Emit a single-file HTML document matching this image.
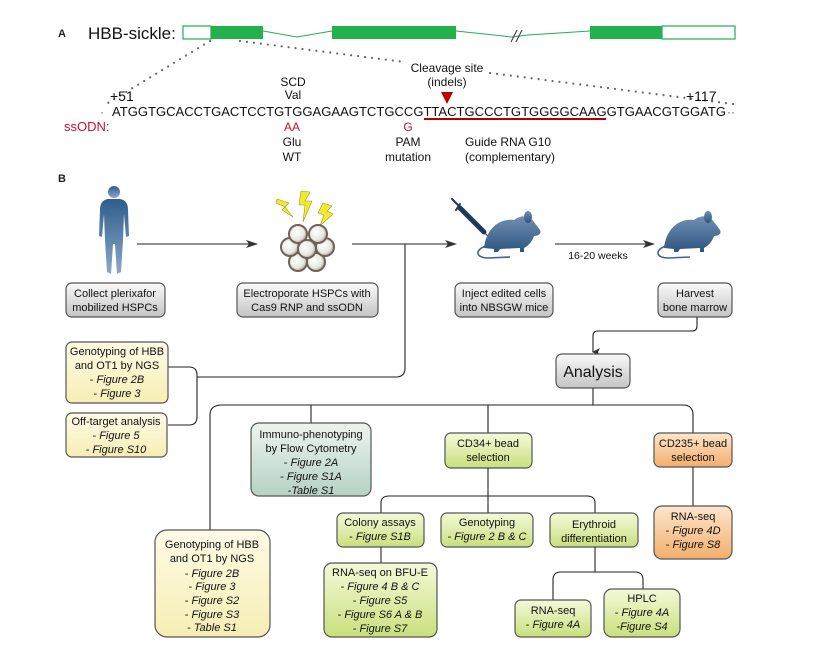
<!DOCTYPE html>
<html><head><meta charset="utf-8"><style>
html,body{margin:0;padding:0;background:#fff;}
svg{display:block;font-family:"Liberation Sans",Arial,sans-serif;}
.b{font-size:11px;fill:#111;text-anchor:middle;}
.i{font-style:italic;}
.ln{fill:none;stroke:#222;stroke-width:1.1;}
.bx{stroke:#555;stroke-width:1.2;}
</style></head><body>
<svg width="816" height="652" viewBox="0 0 816 652" xmlns="http://www.w3.org/2000/svg">
<defs>
<linearGradient id="gg" x1="0" y1="0" x2="0" y2="1"><stop offset="0" stop-color="#fafafa"/><stop offset="1" stop-color="#c4c4c4"/></linearGradient>
<linearGradient id="gy" x1="0" y1="0" x2="0" y2="1"><stop offset="0" stop-color="#fffbe6"/><stop offset="1" stop-color="#f6eeb4"/></linearGradient>
<linearGradient id="gn" x1="0" y1="0" x2="0" y2="1"><stop offset="0" stop-color="#f4f9da"/><stop offset="1" stop-color="#c9e07c"/></linearGradient>
<linearGradient id="go" x1="0" y1="0" x2="0" y2="1"><stop offset="0" stop-color="#fde6cc"/><stop offset="1" stop-color="#f3ae6c"/></linearGradient>
<linearGradient id="gt" x1="0" y1="0" x2="0" y2="1"><stop offset="0" stop-color="#edf4ef"/><stop offset="1" stop-color="#b5d2c2"/></linearGradient>
<linearGradient id="gb" x1="0" y1="0" x2="0" y2="1"><stop offset="0" stop-color="#2f5d8c"/><stop offset="1" stop-color="#8aa8c8"/></linearGradient>
<linearGradient id="gm" x1="0" y1="0" x2="0" y2="1"><stop offset="0" stop-color="#6f8fb3"/><stop offset="1" stop-color="#2f5580"/></linearGradient>
<radialGradient id="gc" cx="0.4" cy="0.4" r="0.6"><stop offset="0" stop-color="#fff"/><stop offset="0.7" stop-color="#e8e8e0"/><stop offset="1" stop-color="#b8b0a8"/></radialGradient>
<marker id="ar" markerWidth="12" markerHeight="8" refX="11" refY="4" orient="auto" markerUnits="userSpaceOnUse"><path d="M0,0 L12,4 L0,8 L3,4 Z" fill="#333"/></marker>
<marker id="ar2" markerWidth="8" markerHeight="8" refX="4" refY="7" orient="auto" markerUnits="userSpaceOnUse"><path d="M0,0 L4,8 L8,0 L4,2 Z" fill="#333"/></marker>
<g id="mouse">
<path d="M4,36 C6,18 18,6 34,8 C42,2 50,4 54,10 L60,18 C62,22 58,24 54,24 C52,30 48,34 44,36 L44,40 L40,40 L40,36 L20,37 L18,40 L14,40 L14,37 Z" fill="url(#gm)"/>
<ellipse cx="48" cy="5" rx="4" ry="6" fill="url(#gm)"/>
<path d="M6,34 C-6,38 -4,46 8,46 L30,45" fill="none" stroke="#3d6390" stroke-width="1.6"/>
</g>
</defs>

<!-- Panel A -->
<text x="58" y="37" font-size="11" font-weight="bold" fill="#222">A</text>
<text x="88" y="39" font-size="17" fill="#111">HBB-sickle:</text>
<rect x="183" y="26" width="28" height="13" fill="#fff" stroke="#22b14c" stroke-width="1.2"/>
<rect x="662" y="26" width="73" height="13" fill="#fff" stroke="#22b14c" stroke-width="1.2"/>
<rect x="211" y="26" width="52" height="13" fill="#22b14c"/>
<rect x="332" y="26" width="124" height="13" fill="#22b14c"/>
<rect x="590" y="26" width="72" height="13" fill="#22b14c"/>
<polyline points="263,31 297,37 332,31" fill="none" stroke="#22b14c" stroke-width="1"/>
<polyline points="456,31 512,37 528,35 590,31" fill="none" stroke="#22b14c" stroke-width="1"/>
<line x1="511" y1="42" x2="517" y2="30" stroke="#333" stroke-width="1"/>
<line x1="516" y1="42" x2="522" y2="30" stroke="#333" stroke-width="1"/>
<line x1="210" y1="41" x2="103" y2="106" stroke="#666" stroke-width="2.2" stroke-dasharray="0,7" stroke-linecap="round"/>
<line x1="240" y1="41" x2="733" y2="104" stroke="#666" stroke-width="2.2" stroke-dasharray="0,7" stroke-linecap="round"/>
<rect x="405" y="60" width="84" height="28" fill="#fff"/>
<text x="447" y="72" font-size="12" text-anchor="middle" fill="#111">Cleavage site</text>
<text x="447" y="86" font-size="12" text-anchor="middle" fill="#111">(indels)</text>
<path d="M441,92 L453,92 L447,104 Z" fill="#c00000"/>
<text x="293" y="86" font-size="12" text-anchor="middle" fill="#111">SCD</text>
<text x="293" y="99" font-size="12" text-anchor="middle" fill="#111">Val</text>
<text x="110" y="101" font-size="14" fill="#111">+51</text>
<text x="686" y="101" font-size="14" fill="#111">+117</text>
<text x="100" y="116" font-size="12" fill="#555">·</text>
<text x="727" y="116" font-size="12" fill="#555">··</text>
<text x="112" y="116" font-size="12.5" fill="#111" textLength="614" lengthAdjust="spacingAndGlyphs">ATGGTGCACCTGACTCCTGTGGAGAAGTCTGCCGTTACTGCCCTGTGGGGCAAGGTGAACGTGGATG</text>
<line x1="424" y1="119" x2="606" y2="119" stroke="#b00000" stroke-width="2"/>
<text x="64" y="131" font-size="13" fill="#c8102e">ssODN:</text>
<text x="292" y="131" font-size="12" text-anchor="middle" fill="#c8102e">AA</text>
<text x="408" y="131" font-size="12" text-anchor="middle" fill="#c8102e">G</text>
<text x="292" y="146" font-size="12" text-anchor="middle" fill="#111">Glu</text>
<text x="292" y="161" font-size="12" text-anchor="middle" fill="#111">WT</text>
<text x="408" y="146" font-size="12" text-anchor="middle" fill="#111">PAM</text>
<text x="408" y="161" font-size="12" text-anchor="middle" fill="#111">mutation</text>
<text x="465" y="146" font-size="12" fill="#111">Guide RNA G10</text>
<text x="465" y="161" font-size="12" fill="#111">(complementary)</text>

<!-- Panel B -->
<text x="58" y="182" font-size="11" font-weight="bold" fill="#222">B</text>
<g fill="url(#gb)">
<circle cx="114" cy="192" r="6"/>
<path d="M108,199 L120,199 C126,200 128,204 128,210 L129,236 L126,237 L124,214 L123,240 L121,272 L117,274 L115,244 L113,244 L111,274 L107,272 L105,240 L104,214 L102,237 L99,236 L100,210 C100,204 102,200 108,199 Z"/>
</g>
<g fill="#f2ea30" stroke="#a09a20" stroke-width="0.6">
<path d="M277,199 L289,203 L285,207 L293,217 L282,210 L285,207 L276,203 Z"/>
<path d="M301,191 L310,192 L305,201 L312,201 L303,222 L305,205 L299,205 Z"/>
<path d="M323,203 L332,206 L327,211 L333,214 L320,226 L324,215 L318,213 Z"/>
</g>
<g fill="url(#gc)" stroke="#6e625a" stroke-width="2">
<circle cx="298" cy="262" r="9"/><circle cx="316" cy="262" r="9"/>
<circle cx="290" cy="247" r="9"/><circle cx="325" cy="247" r="9"/>
<circle cx="298" cy="234" r="9"/><circle cx="318" cy="234" r="9"/>
<circle cx="307" cy="249" r="9"/>
</g>
<g stroke="#1e3a5a" stroke-linecap="round">
<line x1="452" y1="199" x2="460" y2="207" stroke-width="2"/>
<line x1="460" y1="204" x2="456" y2="210" stroke-width="2"/>
<line x1="460" y1="208" x2="484" y2="232" stroke-width="5"/>
<line x1="484" y1="232" x2="495" y2="244" stroke-width="1"/>
</g>
<use href="#mouse" transform="translate(480,212)"/>
<use href="#mouse" transform="translate(660,212)"/>
<line x1="137" y1="244" x2="257" y2="244" class="ln" marker-end="url(#ar)"/>
<line x1="352" y1="244" x2="456" y2="244" class="ln" marker-end="url(#ar)"/>
<line x1="555" y1="244" x2="654" y2="244" class="ln" marker-end="url(#ar)"/>
<text x="598" y="259" font-size="10.5" text-anchor="middle" fill="#111">16-20 weeks</text>
<path d="M405,244 L405,368 Q405,377 396,377 L197,377" class="ln"/>
<rect x="66" y="283" width="99" height="34" rx="6" fill="url(#gg)" class="bx"/>
<text class="b" x="115" y="297">Collect plerixafor</text><text class="b" x="115" y="311">mobilized HSPCs</text>
<rect x="237" y="283" width="141" height="34" rx="6" fill="url(#gg)" class="bx"/>
<text class="b" x="307" y="297">Electroporate HSPCs with</text><text class="b" x="307" y="311">Cas9 RNP and ssODN</text>
<rect x="455" y="283" width="98" height="34" rx="6" fill="url(#gg)" class="bx"/>
<text class="b" x="504" y="297">Inject edited cells</text><text class="b" x="504" y="311">into NBSGW mice</text>
<rect x="658" y="283" width="74" height="34" rx="6" fill="url(#gg)" class="bx"/>
<text class="b" x="695" y="297">Harvest</text><text class="b" x="695" y="311">bone marrow</text>
<path d="M697,317 L697,326 Q697,331 692,331 L598,331 Q593,331 593,336 L593,352" class="ln" marker-end="url(#ar2)"/>
<rect x="556" y="354" width="74" height="34" rx="6" fill="url(#gg)" class="bx"/>
<text x="593" y="377" font-size="16" text-anchor="middle" fill="#111">Analysis</text>
<path d="M168,367 L189,367 Q197,367 197,375 L197,417 Q197,425 189,425 L168,425" class="ln"/>
<rect x="66" y="342" width="102" height="61" rx="6" fill="url(#gy)" class="bx"/>
<text class="b" x="117" y="355">Genotyping of HBB</text><text class="b" x="117" y="369">and OT1 by NGS</text>
<text class="b" x="117" y="383">- <tspan class="i">Figure 2B</tspan></text><text class="b" x="117" y="397">- <tspan class="i">Figure 3</tspan></text>
<rect x="66" y="413" width="101" height="44" rx="6" fill="url(#gy)" class="bx"/>
<text class="b" x="116" y="425">Off-target analysis</text>
<text class="b" x="116" y="439">- <tspan class="i">Figure 5</tspan></text><text class="b" x="116" y="453">- <tspan class="i">Figure S10</tspan></text>
<line x1="593" y1="388" x2="593" y2="405" class="ln"/>
<path d="M210,530 L210,415 Q210,405 222,405 L683,405 Q693,405 693,415 L693,433" class="ln"/>
<line x1="311" y1="405" x2="311" y2="423" class="ln"/>
<line x1="488" y1="405" x2="488" y2="433" class="ln"/>
<rect x="251" y="423" width="120" height="73" rx="8" fill="url(#gt)" class="bx"/>
<text class="b" x="311" y="438">Immuno-phenotyping</text><text class="b" x="311" y="452">by Flow Cytometry</text>
<text class="b" x="311" y="466">- <tspan class="i">Figure 2A</tspan></text><text class="b" x="311" y="480">- <tspan class="i">Figure S1A</tspan></text>
<text class="b i" x="311" y="494">-Table S1</text>
<rect x="445" y="433" width="87" height="35" rx="6" fill="url(#gn)" class="bx"/>
<text class="b" x="488" y="447">CD34+ bead</text><text class="b" x="488" y="461">selection</text>
<rect x="654" y="433" width="78" height="34" rx="6" fill="url(#go)" class="bx"/>
<text class="b" x="693" y="447">CD235+ bead</text><text class="b" x="693" y="461">selection</text>
<line x1="693" y1="467" x2="693" y2="506" class="ln"/>
<rect x="654" y="506" width="78" height="53" rx="8" fill="url(#go)" class="bx"/>
<text class="b" x="693" y="520">RNA-seq</text>
<text class="b" x="693" y="534">- <tspan class="i">Figure 4D</tspan></text><text class="b" x="693" y="548">- <tspan class="i">Figure S8</tspan></text>
<line x1="488" y1="468" x2="488" y2="513" class="ln"/>
<path d="M381,513 L381,503 Q381,496 389,496 L587,496 Q595,496 595,503 L595,513" class="ln"/>
<rect x="337" y="513" width="87" height="34" rx="6" fill="url(#gn)" class="bx"/>
<text class="b" x="380" y="526">Colony assays</text><text class="b" x="380" y="540">- <tspan class="i">Figure S1B</tspan></text>
<rect x="441" y="513" width="92" height="34" rx="6" fill="url(#gn)" class="bx"/>
<text class="b" x="487" y="526">Genotyping</text><text class="b" x="487" y="540">- <tspan class="i">Figure 2 B &amp; C</tspan></text>
<rect x="550" y="513" width="88" height="34" rx="6" fill="url(#gn)" class="bx"/>
<text class="b" x="594" y="528">Erythroid</text><text class="b" x="594" y="542">differentiation</text>
<line x1="381" y1="547" x2="381" y2="563" class="ln"/>
<rect x="324" y="563" width="113" height="74" rx="8" fill="url(#gn)" class="bx"/>
<text class="b" x="380" y="576">RNA-seq on BFU-E</text>
<text class="b" x="380" y="590">- <tspan class="i">Figure 4 B &amp; C</tspan></text>
<text class="b" x="380" y="604">- <tspan class="i">Figure S5</tspan></text>
<text class="b" x="380" y="618">- <tspan class="i">Figure S6 A &amp; B</tspan></text>
<text class="b" x="380" y="632">- <tspan class="i">Figure S7</tspan></text>
<line x1="595" y1="547" x2="595" y2="572" class="ln"/>
<path d="M553,600 L553,580 Q553,572 561,572 L635,572 Q643,572 643,580 L643,589" class="ln"/>
<rect x="515" y="600" width="76" height="37" rx="6" fill="url(#gn)" class="bx"/>
<text class="b" x="553" y="614">RNA-seq</text><text class="b" x="553" y="628">- <tspan class="i">Figure 4A</tspan></text>
<rect x="604" y="589" width="76" height="48" rx="8" fill="url(#gn)" class="bx"/>
<text class="b" x="642" y="602">HPLC</text>
<text class="b" x="642" y="616">- <tspan class="i">Figure 4A</tspan></text><text class="b i" x="642" y="630">-Figure S4</text>
<rect x="155" y="530" width="115" height="107" rx="12" fill="url(#gy)" class="bx"/>
<text class="b" x="212" y="548">Genotyping of HBB</text><text class="b" x="212" y="562">and OT1 by NGS</text>
<text class="b" x="212" y="577">- <tspan class="i">Figure 2B</tspan></text>
<text class="b" x="212" y="590">- <tspan class="i">Figure 3</tspan></text>
<text class="b" x="212" y="604">- <tspan class="i">Figure S2</tspan></text>
<text class="b" x="212" y="618">- <tspan class="i">Figure S3</tspan></text>
<text class="b" x="212" y="631">- <tspan class="i">Table S1</tspan></text>
</svg>
</body></html>
